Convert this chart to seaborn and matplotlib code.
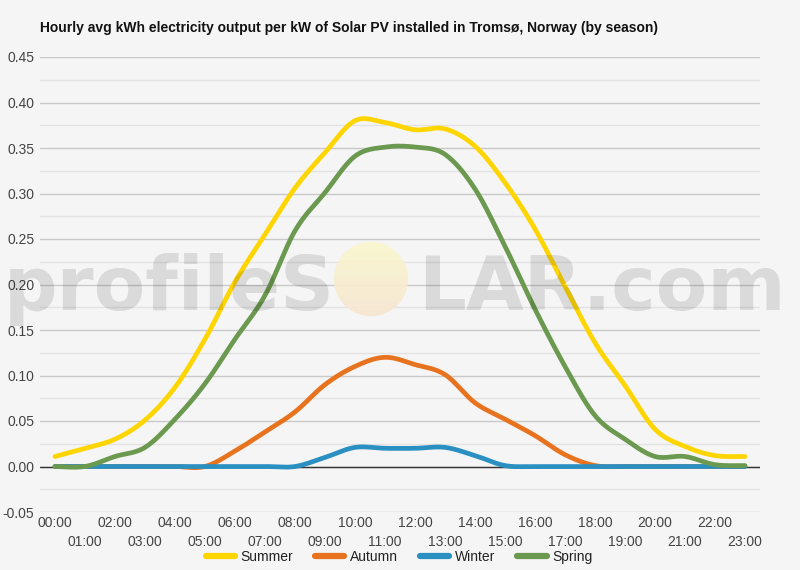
import numpy as np
import pandas as pd
import matplotlib
matplotlib.use("Agg")
import matplotlib.pyplot as plt
import seaborn as sns
from matplotlib.patches import Circle

# ---- data ----
hours = list(range(24))
tick_labels = [f"{h:02d}:00" for h in hours]
seasons = ["Summer", "Autumn", "Winter", "Spring"]
summer = [0.011, 0.020, 0.030, 0.051, 0.087, 0.140, 0.203, 0.255, 0.306, 0.345, 0.380, 0.378,
          0.370, 0.371, 0.352, 0.312, 0.261, 0.198, 0.136, 0.089, 0.041, 0.022, 0.012, 0.011]
autumn = [0.0, 0.0, 0.0, 0.0, 0.0, 0.0, 0.017, 0.038, 0.060, 0.090, 0.110, 0.120,
          0.112, 0.101, 0.070, 0.052, 0.034, 0.013, 0.001, 0.0, 0.0, 0.0, 0.0, 0.0]
winter = [0.0, 0.0, 0.0, 0.0, 0.0, 0.0, 0.0, 0.0, 0.0, 0.010, 0.021, 0.020,
          0.020, 0.021, 0.012, 0.001, 0.0, 0.0, 0.0, 0.0, 0.0, 0.0, 0.0, 0.0]
spring = [0.0, 0.0, 0.011, 0.021, 0.052, 0.091, 0.140, 0.188, 0.259, 0.301, 0.341, 0.351,
          0.351, 0.343, 0.305, 0.242, 0.173, 0.110, 0.056, 0.030, 0.011, 0.011, 0.002, 0.001]
series = {"Summer": summer, "Autumn": autumn, "Winter": winter, "Spring": spring}
colors = {"Summer": "#FFD500", "Autumn": "#E8731F", "Winter": "#2A90C2", "Spring": "#6B994F"}
title = "Hourly avg kWh electricity output per kW of Solar PV installed in Tromsø, Norway (by season)"


def smooth(xv, yv, n=16):
    """Catmull-Rom curve through the data points (rendering only)."""
    xv = np.asarray(xv, float); yv = np.asarray(yv, float)
    px = np.concatenate([[xv[0]], xv, [xv[-1]]])
    py = np.concatenate([[yv[0]], yv, [yv[-1]]])
    ox, oy = [], []
    t = np.linspace(0, 1, n, endpoint=False)
    for i in range(len(xv) - 1):
        for p, out in ((px, ox), (py, oy)):
            p0, p1, p2, p3 = p[i:i + 4]
            m1 = (p2 - p0) / 2; m2 = (p3 - p1) / 2
            h00 = 2 * t**3 - 3 * t**2 + 1; h10 = t**3 - 2 * t**2 + t
            h01 = -2 * t**3 + 3 * t**2; h11 = t**3 - t**2
            out.extend(h00 * p1 + h10 * m1 + h01 * p2 + h11 * m2)
    ox.append(xv[-1]); oy.append(yv[-1])
    return np.array(ox), np.array(oy)


rows = []
for s in seasons:
    sx, sy = smooth(hours, series[s])
    rows.append(pd.DataFrame({"hour": sx, "kwh": sy, "season": s}))
df = pd.concat(rows, ignore_index=True)

sns.set_theme(style="white")
plt.rcParams["font.family"] = ["Liberation Sans", "DejaVu Sans"]

bg = "#f5f5f5"
fig = plt.figure(figsize=(8, 5.7), dpi=100, facecolor=bg)
ax = fig.add_axes([40 / 800, 1 - 512 / 570, 720 / 800, 455 / 570], facecolor=bg)

ax.set_ylim(-0.05, 0.45)
ax.set_xlim(-0.5, 23.5)
ax.set_yticks(np.round(np.arange(-0.05, 0.451, 0.05), 3))
ax.set_yticks(np.round(np.arange(-0.025, 0.45, 0.05), 3), minor=True)
ax.set_yticklabels([f"{v:.2f}" for v in np.arange(-0.05, 0.451, 0.05)])
ax.grid(which="major", axis="y", color="#c9c9c9", lw=1.0)
ax.grid(which="minor", axis="y", color="#e3e3e3", lw=1.0)
ax.grid(axis="x", visible=False)
ax.set_axisbelow(True)
for sp in ax.spines.values():
    sp.set_visible(False)
ax.axhline(0, color="#333333", lw=1.0, zorder=1.5)

sns.lineplot(data=df, x="hour", y="kwh", hue="season", hue_order=seasons,
             palette=colors, lw=3.4, sort=False, estimator=None, ax=ax, legend=False, zorder=3)

ax.set_xticks(hours)
ax.set_xticklabels(tick_labels)
ax.tick_params(axis="both", which="both", length=0, labelsize=10, labelcolor="#444444")
ax.tick_params(axis="y", pad=4)
for i, tk in enumerate(ax.xaxis.get_major_ticks()):
    tk.set_pad(3 if i % 2 == 0 else 16.5)
ax.set_xlabel(""); ax.set_ylabel("")

fig.text(40 / 800, 1 - 28 / 570, title, fontsize=10, fontweight="bold",
         color="#111111", va="center", ha="left")

handles = [plt.Line2D([], [], color=colors[s], lw=4.5) for s in seasons]
fig.legend(handles, seasons, loc="center", bbox_to_anchor=(399 / 800, 1 - 557 / 570),
           ncol=4, frameon=False, fontsize=10, handlelength=2.1, handletextpad=0.4,
           columnspacing=1.6, labelcolor="#222222")

# watermark
wm = dict(fontsize=54, fontweight="bold", color="black", alpha=0.11, va="baseline", ha="left",
          family="DejaVu Sans", zorder=10)
fig.text(4 / 800, 1 - 310 / 570, "profileS", **wm)
fig.text(418 / 800, 1 - 310 / 570, "LAR.com", **wm)

sun_ax = fig.add_axes([(371 - 38) / 800, 1 - (279 + 38) / 570, 76 / 800, 76 / 570])
sun_ax.set_axis_off()
sun_ax.patch.set_alpha(0)
grad = np.linspace(0, 1, 100)[:, None] * np.ones((1, 10))
top = np.array([0.98, 0.97, 0.80]); bot = np.array([0.97, 0.90, 0.82])
img = top[None, None, :] * (1 - grad[..., None]) + bot[None, None, :] * grad[..., None]
im = sun_ax.imshow(img, extent=(0, 1, 0, 1), origin="upper", aspect="auto", alpha=0.9)
circ = Circle((0.5, 0.5), 0.49, transform=sun_ax.transData)
im.set_clip_path(circ)
sun_ax.set_xlim(0, 1); sun_ax.set_ylim(0, 1)

fig.savefig("out.png", dpi=100, facecolor=bg)
